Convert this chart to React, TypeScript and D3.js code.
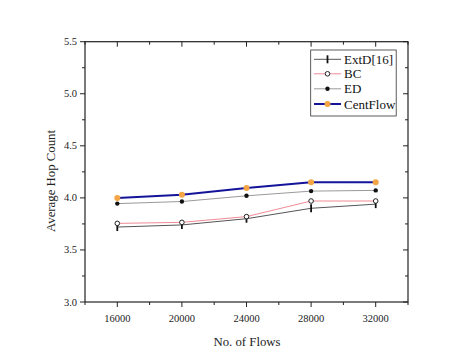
import React from "react";
import * as d3 from "d3";

const flows = [16000, 20000, 24000, 28000, 32000];
const extD = [3.72, 3.74, 3.8, 3.9, 3.94];
const bc = [3.755, 3.765, 3.82, 3.97, 3.97];
const ed = [3.945, 3.965, 4.02, 4.065, 4.072];
const centFlow = [4.0, 4.03, 4.095, 4.15, 4.15];
const xTicks = [16000, 20000, 24000, 28000, 32000];
const xMinor = [14000, 18000, 22000, 26000, 30000, 34000];
const yTicks = [3.0, 3.5, 4.0, 4.5, 5.0, 5.5];
const yMinor = [3.25, 3.75, 4.25, 4.75, 5.25];

const seriesNames = ["ExtD[16]", "BC", "ED", "CentFlow"];

export default function App() {
  const W = 474, H = 363;
  const L = 85, R = 408, T = 41.7, B = 302;
  const x = d3.scaleLinear().domain([14000, 34000]).range([L, R]);
  const y = d3.scaleLinear().domain([3.0, 5.5]).range([B, T]);
  const line = d3.line<number>().x((_, i) => x(flows[i])).y((v) => y(v));
  const font = "'Liberation Serif', 'Times New Roman', serif";

  const series = [
    { name: seriesNames[0], data: extD, color: "#555555", w: 1 },
    { name: seriesNames[1], data: bc, color: "#f08a96", w: 1 },
    { name: seriesNames[2], data: ed, color: "#9a9a9a", w: 1 },
    { name: seriesNames[3], data: centFlow, color: "#14149a", w: 2 },
  ];

  const marker = (i: number, cx: number, cy: number, k: string) => {
    if (i === 0)
      return <line key={k} x1={cx} x2={cx} y1={cy - 4} y2={cy + 4} stroke="#111" strokeWidth={1.8} />;
    if (i === 1)
      return <circle key={k} cx={cx} cy={cy} r={2.3} fill="#fff" stroke="#222" strokeWidth={1} />;
    if (i === 2) return <circle key={k} cx={cx} cy={cy} r={2.2} fill="#111" />;
    return <circle key={k} cx={cx} cy={cy} r={3} fill="#f4a545" />;
  };

  const legY = [59.3, 73.8, 88.8, 104];

  return (
    <svg width={W} height={H} style={{ display: "block", position: "absolute", left: 0, top: 0 }}>
      <rect width={W} height={H} fill="#fff" />
      {series.map((s, i) => (
        <path key={s.name} d={line(s.data) || ""} fill="none" stroke={s.color} strokeWidth={s.w} />
      ))}
      {series.map((s, i) =>
        s.data.map((v, j) => marker(i, x(flows[j]), y(v), s.name + j))
      )}
      <rect x={L} y={T} width={R - L} height={B - T} fill="none" stroke="#222" strokeWidth={1.2} />
      {xTicks.map((t) => (
        <g key={"xt" + t}>
          <line x1={x(t)} x2={x(t)} y1={B} y2={B + 5} stroke="#222" />
          <line x1={x(t)} x2={x(t)} y1={T} y2={T + 5} stroke="#222" />
          <text x={x(t)} y={B + 20} textAnchor="middle" fontFamily={font} fontSize={10.5} fill="#222">
            {t}
          </text>
        </g>
      ))}
      {xMinor.map((t) => (
        <g key={"xm" + t}>
          <line x1={x(t)} x2={x(t)} y1={B} y2={B + 3} stroke="#222" />
          <line x1={x(t)} x2={x(t)} y1={T} y2={T + 3} stroke="#222" />
        </g>
      ))}
      {yTicks.map((t) => (
        <g key={"yt" + t}>
          <line x1={L - 5} x2={L} y1={y(t)} y2={y(t)} stroke="#222" />
          <line x1={R - 5} x2={R} y1={y(t)} y2={y(t)} stroke="#222" />
          <text x={L - 8} y={y(t) + 3.5} textAnchor="end" fontFamily={font} fontSize={10.5} fill="#222">
            {t.toFixed(1)}
          </text>
        </g>
      ))}
      {yMinor.map((t) => (
        <g key={"ym" + t}>
          <line x1={L - 3} x2={L} y1={y(t)} y2={y(t)} stroke="#222" />
          <line x1={R - 3} x2={R} y1={y(t)} y2={y(t)} stroke="#222" />
        </g>
      ))}
      <text x={247} y={346} textAnchor="middle" fontFamily={font} fontSize={12.8} fill="#222">
        No. of Flows
      </text>
      <text
        transform={`translate(55, 181) rotate(-90)`}
        textAnchor="middle"
        fontFamily={font}
        fontSize={12.8}
        fill="#222"
      >
        Average Hop Count
      </text>
      <rect x={310.7} y={50} width={85.5} height={66} fill="#fff" stroke="#333" strokeWidth={0.8} />
      {series.map((s, i) => (
        <g key={"lg" + i}>
          <line x1={314} x2={341} y1={legY[i]} y2={legY[i]} stroke={s.color} strokeWidth={s.w} />
          {marker(i, 327.5, legY[i], "lm" + i)}
          <text x={344} y={legY[i] + 4.5} fontFamily={font} fontSize={13} fill="#111">
            {s.name}
          </text>
        </g>
      ))}
    </svg>
  );
}
